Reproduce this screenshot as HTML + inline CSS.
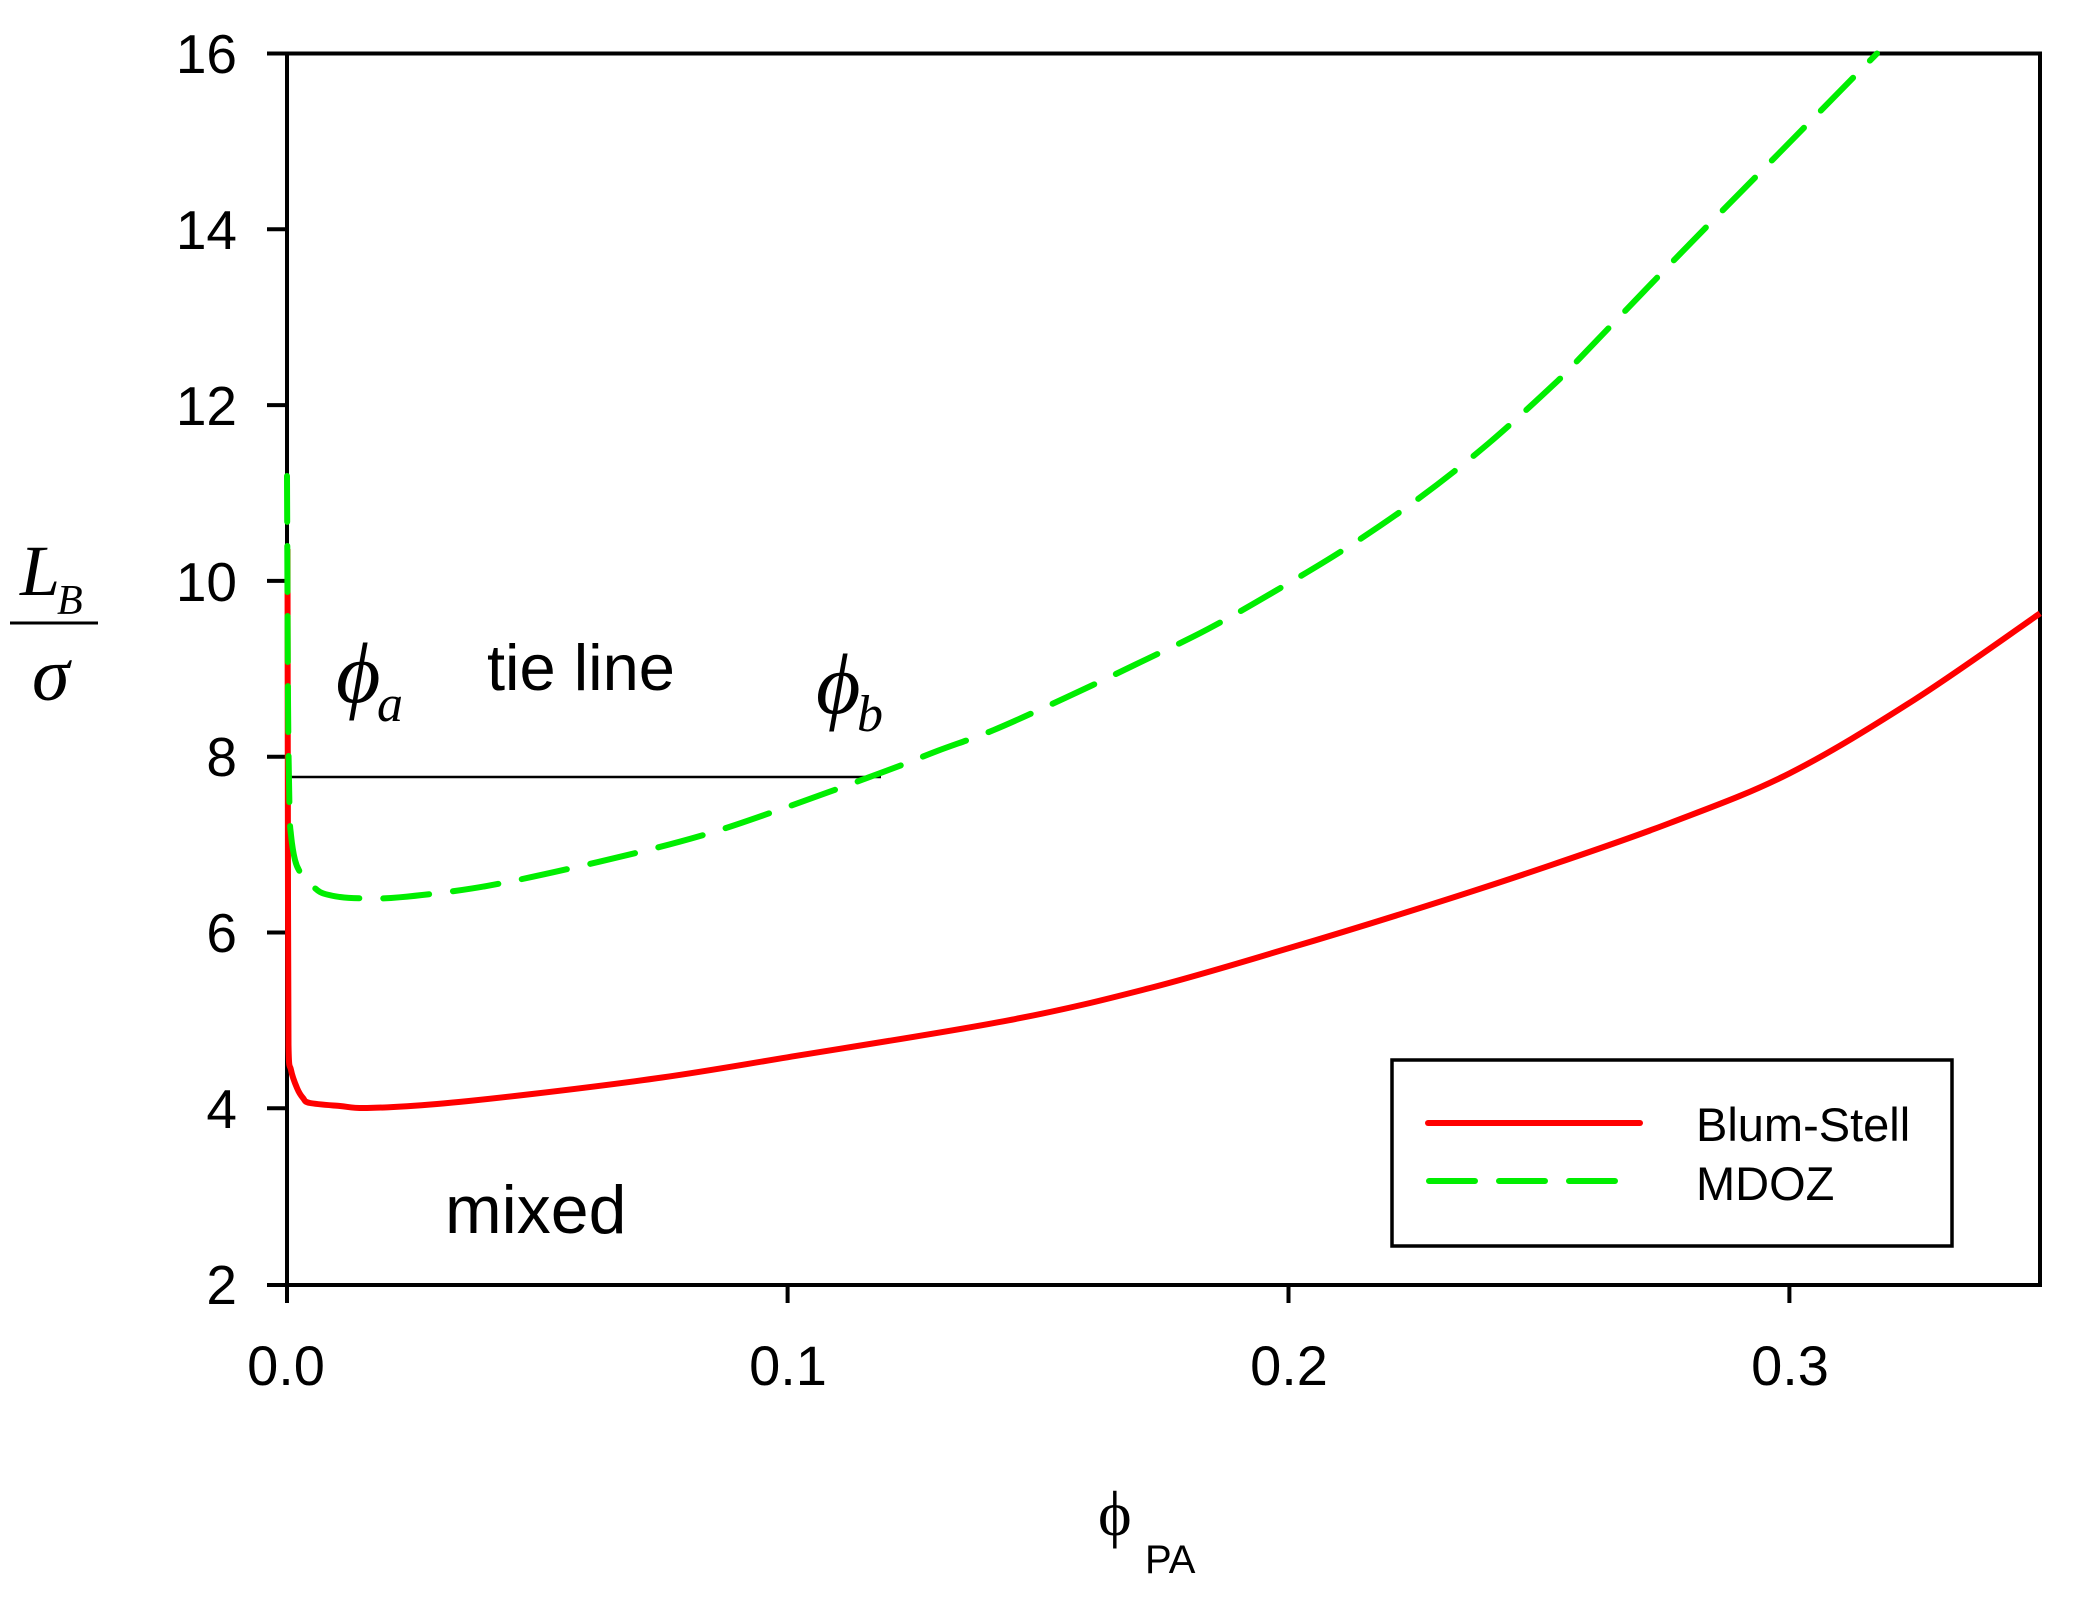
<!DOCTYPE html>
<html><head><meta charset="utf-8"><style>
html,body{margin:0;padding:0;background:#fff;}
svg{display:block;}
text{font-family:"Liberation Sans",sans-serif;fill:#000;}
.s{font-family:"Liberation Serif",serif;}
</style></head><body>
<svg width="2079" height="1599" viewBox="0 0 2079 1599" xmlns="http://www.w3.org/2000/svg">
<rect width="2079" height="1599" fill="#fff"/>
<rect x="287" y="53.5" width="1753" height="1231.5" fill="none" stroke="#000" stroke-width="4"/>
<g stroke="#000" stroke-width="4">
<line x1="267" y1="53.5" x2="287" y2="53.5"/>
<line x1="267" y1="229.3" x2="287" y2="229.3"/>
<line x1="267" y1="405.1" x2="287" y2="405.1"/>
<line x1="267" y1="580.9" x2="287" y2="580.9"/>
<line x1="267" y1="756.7" x2="287" y2="756.7"/>
<line x1="267" y1="932.5" x2="287" y2="932.5"/>
<line x1="267" y1="1108.3" x2="287" y2="1108.3"/>
<line x1="267" y1="1285" x2="287" y2="1285"/>
<line x1="287" y1="1285" x2="287" y2="1303"/>
<line x1="787.6" y1="1285" x2="787.6" y2="1303"/>
<line x1="1288.5" y1="1285" x2="1288.5" y2="1303"/>
<line x1="1789.4" y1="1285" x2="1789.4" y2="1303"/>
</g>
<g font-size="55" text-anchor="end">
<text x="237" y="73">16</text>
<text x="237" y="249">14</text>
<text x="237" y="425">12</text>
<text x="237" y="601">10</text>
<text x="237" y="776">8</text>
<text x="237" y="952">6</text>
<text x="237" y="1128">4</text>
<text x="237" y="1304">2</text>
</g>
<g font-size="56" text-anchor="middle">
<text x="286" y="1385">0.0</text>
<text x="788" y="1385">0.1</text>
<text x="1289" y="1385">0.2</text>
<text x="1790" y="1385">0.3</text>
</g>
<line x1="289" y1="777" x2="881" y2="777" stroke="#000" stroke-width="2.5"/>
<path id="red" fill="none" stroke="#ff0000" stroke-width="6" stroke-linejoin="round" d=""/>
<path id="green" fill="none" stroke="#00ee00" stroke-width="6" stroke-linejoin="round" stroke-linecap="round" stroke-dasharray="46 24" d=""/>
<text class="s" x="20" y="595" font-size="72" font-style="italic">L</text>
<text class="s" x="57" y="614" font-size="42" font-style="italic">B</text>
<line x1="10" y1="623" x2="98" y2="623" stroke="#000" stroke-width="3"/>
<text class="s" x="32" y="700" font-size="76" font-style="italic">σ</text>
<text class="s" x="336" y="702" font-size="86" font-style="italic">ϕ</text>
<text class="s" x="377" y="721" font-size="52" font-style="italic">a</text>
<text x="487" y="690" font-size="65">tie line</text>
<text class="s" x="816" y="713" font-size="86" font-style="italic">ϕ</text>
<text class="s" x="857" y="731" font-size="52" font-style="italic">b</text>
<text x="445" y="1233" font-size="68">mixed</text>
<text class="s" x="1098" y="1535" font-size="64">ϕ</text>
<text x="1145" y="1573" font-size="40">PA</text>
<rect x="1392" y="1060" width="560" height="186" fill="#fff" stroke="#000" stroke-width="3.5"/>
<line x1="1428" y1="1123" x2="1640" y2="1123" stroke="#ff0000" stroke-width="6" stroke-linecap="round"/>
<line x1="1429" y1="1181" x2="1620" y2="1181" stroke="#00ee00" stroke-width="6" stroke-linecap="round" stroke-dasharray="46 24"/>
<text x="1696" y="1141" font-size="47">Blum-Stell</text>
<text x="1696" y="1200" font-size="47">MDOZ</text>
</svg>
<script>
function cr(p){var d="M"+p[0][0]+","+p[0][1];for(var i=0;i<p.length-1;i++){var p0=p[Math.max(0,i-1)],p1=p[i],p2=p[i+1],p3=p[Math.min(p.length-1,i+2)];
var c1x=p1[0]+(p2[0]-p0[0])/6,c1y=p1[1]+(p2[1]-p0[1])/6,c2x=p2[0]-(p3[0]-p1[0])/6,c2y=p2[1]-(p3[1]-p1[1])/6;
d+=" C"+c1x.toFixed(1)+","+c1y.toFixed(1)+" "+c2x.toFixed(1)+","+c2y.toFixed(1)+" "+p2[0]+","+p2[1];}return d;}
var red=[[287.5,549],[288,900],[288.5,1045],[291,1070],[297,1088],[303,1098],[310,1103],[340,1106],[367,1108],[437,1104],[532,1094],[662,1077.5],[787.6,1057.3],[1008,1020.4],[1150,988],[1288.5,948.3],[1420,908],[1539,869.2],[1670,823],[1789.4,773.4],[1914.6,699.6],[2040,613.4]];
var green=[[287,476],[288,700],[289.5,808],[291,835],[295,860],[300,872],[306.7,879],[320,892],[340,897],[359.8,898.2],[399.4,897.3],[487.1,885.9],[597.3,862.2],[700,836],[787.6,806.8],[886.7,770.7],[938,750.7],[993.8,730],[1065,698],[1134.5,665],[1208,629],[1277,590],[1348,547],[1418,499],[1489,443],[1558.6,380],[1580,358],[1680,254],[1779.4,152.8],[1877,53.5]];
document.getElementById("red").setAttribute("d",cr(red));
document.getElementById("green").setAttribute("d",cr(green));
</script>
</body></html>
